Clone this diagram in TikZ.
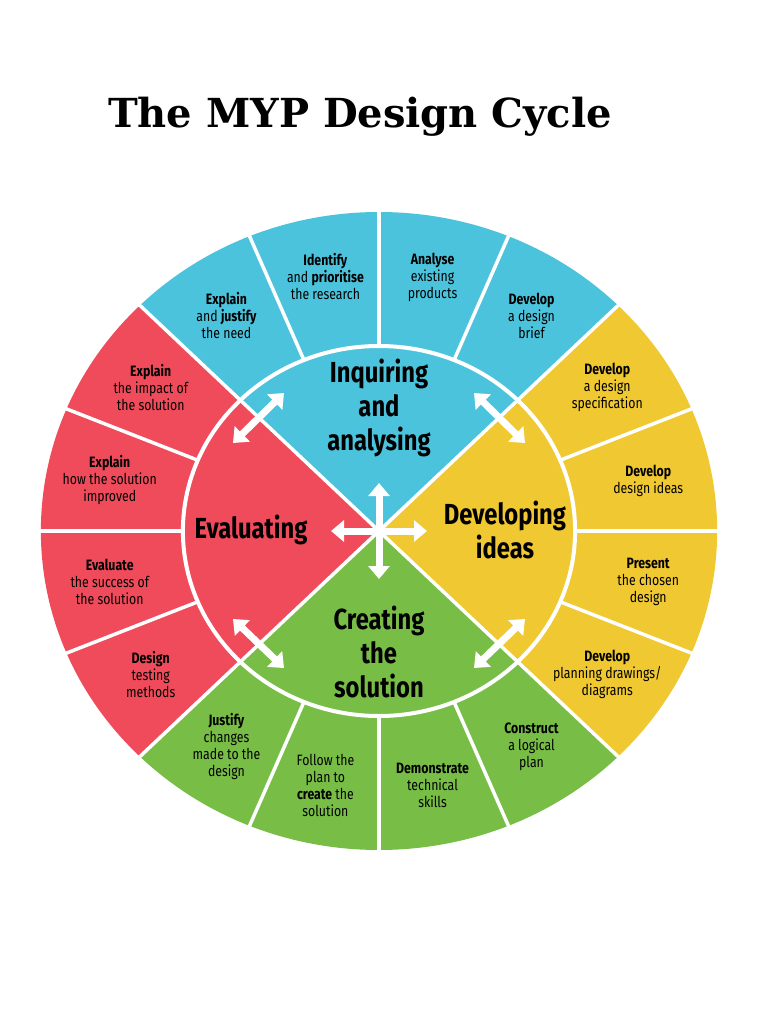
\documentclass[tikz,border=0pt]{standalone}
\usepackage{fontspec}
\setmainfont{Fira Sans}[FakeStretch=0.82]
\newfontfamily\titlefont{DejaVu Serif}
\usetikzlibrary{arrows.meta}
\definecolor{cblue}{HTML}{4BC3DC}
\definecolor{cyel}{HTML}{F0C832}
\definecolor{cgreen}{HTML}{78BE46}
\definecolor{cred}{HTML}{EF4B5A}
\begin{document}
\begin{tikzpicture}[x=1pt,y=-1pt,
  seg/.style={align=center,font=\fontsize{15}{17}\selectfont,inner sep=0pt},
  quad/.style={align=center,font=\fontsize{29}{34}\selectfont\bfseries,inner sep=0pt},
  warrow/.style={white,line width=7,{Triangle[width=21,length=13]}-{Triangle[width=21,length=13]}}]
\useasboundingbox (0,0) rectangle (768,1024);
\node[font=\titlefont\bfseries\fontsize{40}{44}\selectfont] (title) at (360,117) {The MYP Design Cycle};
\begin{scope}[shift={(379,531)},xscale=1.06,yscale=-1]
  \fill[cblue] (0,0) -- (45:319) arc[start angle=45,end angle=135,radius=319] -- cycle;
  \fill[cred] (0,0) -- (135:319) arc[start angle=135,end angle=225,radius=319] -- cycle;
  \fill[cgreen] (0,0) -- (225:319) arc[start angle=225,end angle=315,radius=319] -- cycle;
  \fill[cyel] (0,0) -- (-45:319) arc[start angle=-45,end angle=45,radius=319] -- cycle;
  \foreach \a in {0,22.5,...,337.5} \draw[white,line width=3.5] (\a:185) -- (\a:321);
  \draw[white,line width=4] (0,0) circle[radius=185];
  \foreach \a in {45,135,225,315} \draw[white,line width=3.5] (0,0) -- (\a:185);
\end{scope}
\draw[warrow] (379,483) coordinate (cu) -- (379,579) coordinate (cd);
\draw[warrow] (331,531) coordinate (cl) -- (427,531) coordinate (cr);
\coordinate (a1) at (233,443); \coordinate (a2) at (284,393);
\coordinate (b1) at (474,393); \coordinate (b2) at (525,443);
\coordinate (c1) at (233,619); \coordinate (c2) at (284,668);
\coordinate (d1) at (474,668); \coordinate (d2) at (525,619);
\draw[warrow] (a1) -- (a2);
\draw[warrow] (b1) -- (b2);
\draw[warrow] (c1) -- (c2);
\draw[warrow] (d1) -- (d2);
\node[quad] (qi) at (379,408) {Inquiring\\and\\analysing};
\node[quad] (qd) at (505,530) {Developing\\ideas};
\node[quad] (qe) at (251,530) {Evaluating};
\node[quad] (qc) at (379,652) {Creating\\the\\solution};
\foreach \a/\t [count=\i] in {
  101.25/{\textbf{Identify}\\and \textbf{prioritise}\\the research},
  78.75/{\textbf{Analyse}\\existing\\products},
  56.25/{\textbf{Develop}\\a design\\brief},
  123.75/{\textbf{Explain}\\and \textbf{justify}\\the need},
  33.75/{\textbf{Develop}\\a design\\specification},
  11.25/{\textbf{Develop}\\design ideas},
  -11.25/{\textbf{Present}\\the chosen\\design},
  -33.75/{\textbf{Develop}\\planning drawings/\\diagrams},
  -56.25/{\textbf{Construct}\\a logical\\plan},
  -78.75/{\textbf{Demonstrate}\\technical\\skills},
  -101.25/{Follow the\\plan to\\\textbf{create} the\\solution},
  -123.75/{\textbf{Justify}\\changes\\made to the\\design},
  -146.25/{\textbf{Design}\\testing\\methods},
  -168.75/{\textbf{Evaluate}\\the success of\\the solution},
  168.75/{\textbf{Explain}\\how the solution\\improved},
  146.25/{\textbf{Explain}\\the impact of\\the solution}}
  \node[seg] (s\i) at ({379+1.06*259*cos(\a)},{531-259*sin(\a)}) {\t};
\end{tikzpicture}
\end{document}
